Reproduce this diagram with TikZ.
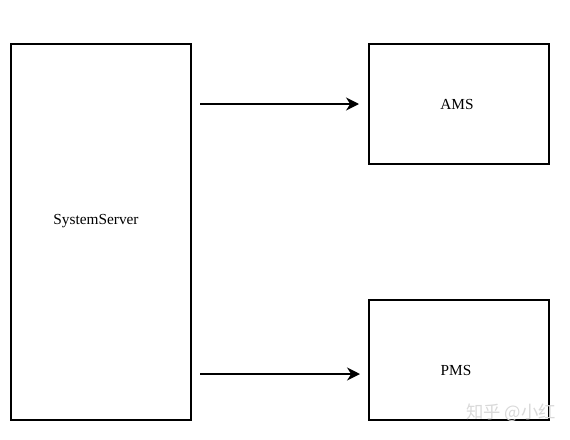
\documentclass[tikz,border=0pt]{standalone}
\usepackage{fontspec}
\setmainfont{Liberation Serif}
\newfontfamily\cjk{Noto Sans CJK SC}
\usetikzlibrary{arrows.meta}
\begin{document}
\begin{tikzpicture}[x=0.75pt,y=-0.75pt,
  box/.style={draw=black,line width=1.5pt,fill=white,minimum width=180*0.75pt,inner sep=0pt},
  lbl/.style={inner sep=0pt,font=\fontsize{11.5}{13}\selectfont},
  conn/.style={line width=1.5pt,-{Stealth[length=13*0.75pt,width=13*0.75pt]},shorten <=9*0.75pt,shorten >=9*0.75pt}]
\useasboundingbox (0,0) rectangle (570,439);
\node[box,minimum height=376*0.75pt] (ss) at (101,232) {};
\node[box,minimum height=120*0.75pt] (ams) at (459,104) {};
\node[box,minimum height=120*0.75pt] (pms) at (459,360) {};
\node[lbl] (ssl) at (96,221) {SystemServer};
\node[lbl] (amsl) at (457,104) {AMS};
\node[lbl] (pmsl) at (456,370) {PMS};
\coordinate (a1) at (191,104);
\coordinate (a2) at (191,374);
\coordinate (b2) at (369,374);
\draw[conn] (a1) -- (ams.west);
\draw[conn] (a2) -- (b2);
\node[text=black!15,font=\cjk\fontsize{13}{15}\selectfont] (wm) at (511,413) {知乎 @小红};
\end{tikzpicture}
\end{document}
